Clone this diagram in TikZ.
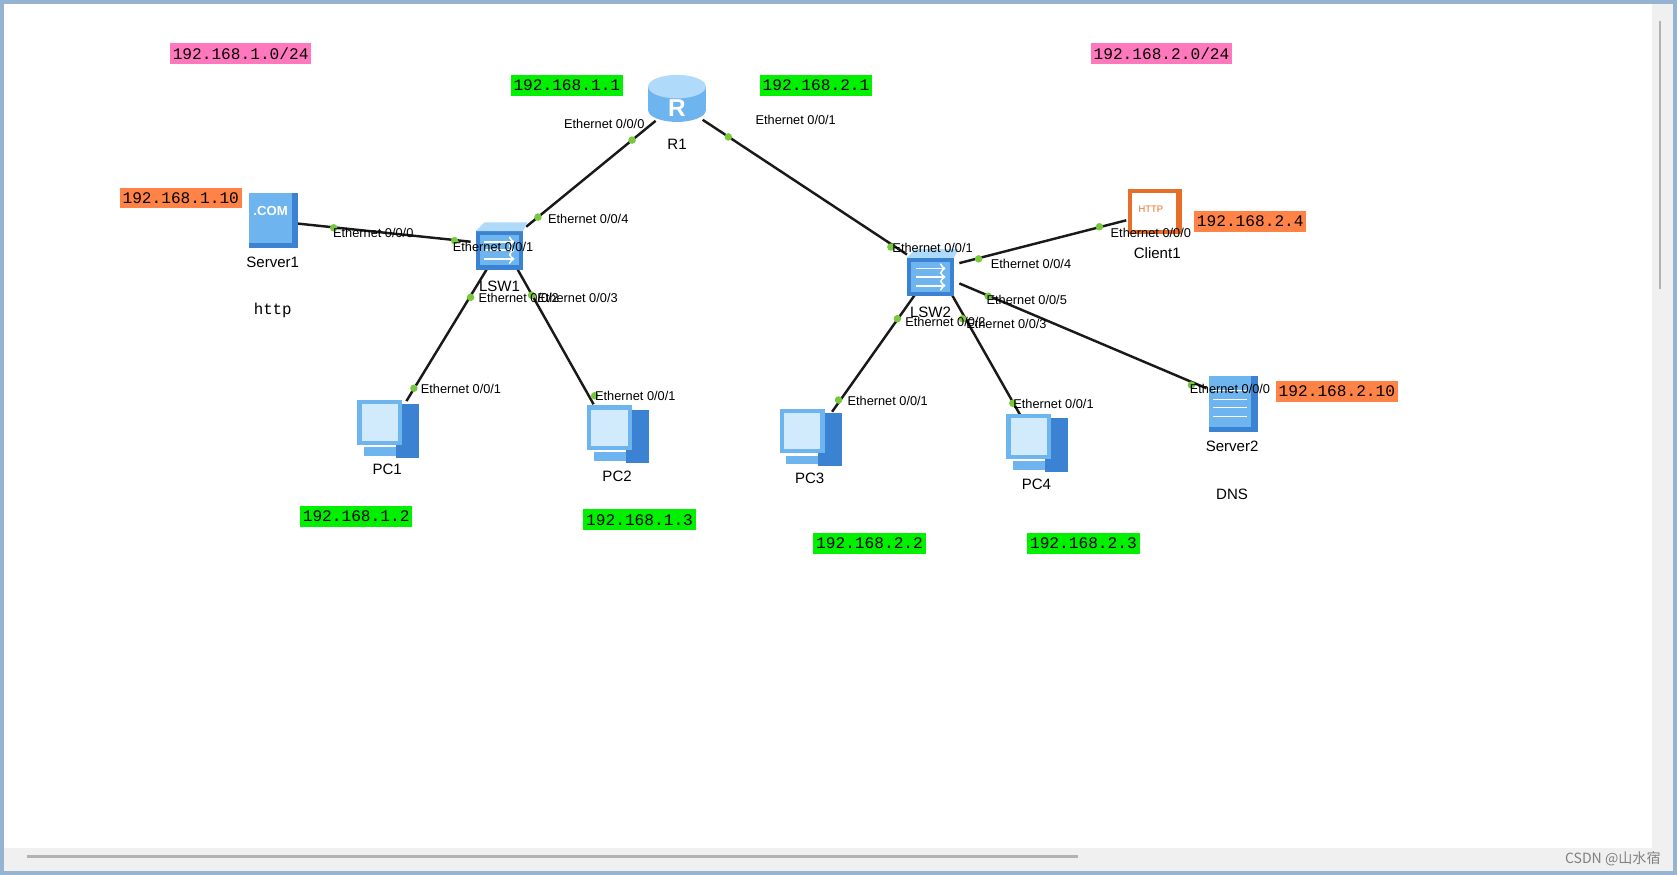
\documentclass[tikz,border=0pt]{standalone}
\usepackage{fontspec}
\setmainfont{Liberation Sans}
\newfontfamily\monof{Liberation Mono}
\newfontfamily\cjkf{Noto Sans CJK SC}
\definecolor{cpink}{RGB}{255,120,190}
\definecolor{cgrn}{RGB}{0,240,0}
\definecolor{corg}{RGB}{255,130,70}
\definecolor{cframe}{RGB}{150,180,210}
\definecolor{cdot}{RGB}{120,200,60}
\definecolor{bdark}{RGB}{60,130,210}
\definecolor{bmid}{RGB}{110,180,238}
\definecolor{blight}{RGB}{175,218,250}
\definecolor{bpale}{RGB}{210,235,252}
\definecolor{corgd}{RGB}{230,110,40}
\begin{document}
\begin{tikzpicture}[x=0.02cm,y=-0.02cm,
 ip/.style={font=\monof\fontsize{8.6}{9}\selectfont,inner sep=1.5pt,minimum height=11pt},
 pink/.style={ip,fill=cpink},
 grn/.style={ip,fill=cgrn},
 org/.style={ip,fill=corg},
 eth/.style={font=\fontsize{6.8}{7}\selectfont,inner sep=0pt},
 dev/.style={font=\fontsize{8}{9}\selectfont,inner sep=0pt},
 link/.style={line width=1.3pt,black!90},
 dot/.style={circle,fill=cdot,inner sep=0pt,minimum size=4pt}]
\useasboundingbox (0,0) rectangle (1568,818);
\fill[white] (0,0) rectangle (1568,818);
\fill[gray!12] (1545,0) rectangle (1568,818);
\fill[gray!12] (0,793) rectangle (1545,818);
\draw[gray!60,line width=1.5pt] (25,801) -- (1008,801);
\draw[gray!60,line width=1.5pt] (1552,20) -- (1552,270);
\draw[cframe,line width=3pt] (1,1) rectangle (1567,817);
\node[font=\cjkf\fontsize{7.5}{8}\selectfont,text=gray] (wm) at (1508,803) {CSDN @山水宿};
% coordinates
\coordinate (r1a) at (613,113); \coordinate (s1a) at (492,212);
\coordinate (r1b) at (657,112); \coordinate (s2a) at (848,238);
\coordinate (sv1) at (278,209); \coordinate (s1b) at (440,226);
\coordinate (s1c) at (455,252); \coordinate (pc1) at (380,375);
\coordinate (s1d) at (484,252); \coordinate (pc2) at (555,378);
\coordinate (s2b) at (897,246); \coordinate (cl1) at (1053,206);
\coordinate (s2c) at (897,265); \coordinate (sv2) at (1128,363);
\coordinate (s2d) at (858,272); \coordinate (pc3) at (778,385);
\coordinate (s2e) at (888,272); \coordinate (pc4) at (955,390);
\draw[link] (r1a)--(s1a); \draw[link] (r1b)--(s2a);
\draw[link] (sv1)--(s1b); \draw[link] (s1c)--(pc1); \draw[link] (s1d)--(pc2);
\draw[link] (s2b)--(cl1); \draw[link] (s2c)--(sv2); \draw[link] (s2d)--(pc3); \draw[link] (s2e)--(pc4);
\foreach \p/\n in {{591,131}/d1,{503,203}/d2,{681,128}/d3,{833,231}/d4,{312,213}/d5,{425,225}/d6,{440,278}/d7,{387,363}/d8,{497,276}/d9,{556,370}/d10,{915,242}/d11,{1028,212}/d12,{924,277}/d13,{1114,360}/d14,{839,298}/d15,{784,374}/d16,{900,298}/d17,{947,377}/d18}
  \node[dot] (\n) at (\p) {};
% router
\begin{scope}[shift={(633,93)}]
 \fill[bmid] (-27,-12) -- (-27,10) arc[start angle=180,end angle=0,x radius=27,y radius=11] -- (27,-12) -- cycle;
 \fill[blight] (0,-12) ellipse[x radius=27,y radius=11];
 \node[font=\bfseries\fontsize{13}{13}\selectfont,text=white] (rr) at (0,8) {R};
\end{scope}
% switches
\foreach \x/\y in {467/230,870/255}{
 \begin{scope}[shift={(\x,\y)}]
  \fill[bdark] (-22,-14) rectangle (22,22);
  \fill[blight] (-22,-14) -- (-14,-22) -- (26,-22) -- (22,-14) -- cycle;
  \fill[bmid] (-18,-10) rectangle (18,18);
  \foreach \yy in {-4,4,12}{\draw[white,line width=1pt,->] (-14,\yy) -- (14,\yy);}
 \end{scope}}
% server1
\begin{scope}[shift={(255,205)}]
 \fill[bdark] (-22,-25) rectangle (24,27);
 \fill[bmid] (-22,-25) rectangle (18,22);
 \node[font=\bfseries\fontsize{7}{7}\selectfont,text=white] (com) at (-2,-8) {.COM};
\end{scope}
% server2
\begin{scope}[shift={(1152,377)}]
 \fill[bdark] (-22,-25) rectangle (24,27);
 \fill[bmid] (-22,-25) rectangle (18,22);
 \foreach \yy in {-12,-4,4,12}{\draw[white] (-18,\yy) -- (14,\yy);}
\end{scope}
% client1
\begin{scope}[shift={(1080,197)}]
 \fill[corgd] (-25,-20) rectangle (25,22);
 \fill[white] (-22,-17) rectangle (20,18);
 \node[font=\fontsize{5}{5}\selectfont,text=corgd] (http) at (-4,-1) {HTTP};
\end{scope}
% PCs
\foreach \x/\y in {362/400,577/405,757/408,969/413}{
 \begin{scope}[shift={(\x,\y)}]
  \fill[bdark] (8,-22) rectangle (30,28);
  \fill[bmid] (-28,-26) rectangle (14,16);
  \fill[bpale] (-24,-22) rectangle (10,12);
  \fill[bmid] (-22,18) rectangle (8,26);
 \end{scope}}
% device labels
\node[dev] (R1) at (633,135) {R1};
\node[dev] (LSW1) at (467,268) {LSW1};
\node[dev] (LSW2) at (870,292) {LSW2};
\node[dev] (Server1) at (255,245) {Server1};
\node[font=\monof\fontsize{8.4}{9}\selectfont] (httpl) at (255,290) {http};
\node[dev] (Client1) at (1082,237) {Client1};
\node[dev] (Server2) at (1152,417) {Server2};
\node[dev] (dns) at (1152,462) {DNS};
\node[dev] (PC1) at (362,439) {PC1};
\node[dev] (PC2) at (577,445) {PC2};
\node[dev] (PC3) at (757,447) {PC3};
\node[dev] (PC4) at (969,453) {PC4};
% eth labels
\node[eth] at (565,116) {Ethernet 0/0/0};
\node[eth] at (550,205) {Ethernet 0/0/4};
\node[eth] at (744,112) {Ethernet 0/0/1};
\node[eth] at (872,232) {Ethernet 0/0/1};
\node[eth] at (349,218) {Ethernet 0/0/0};
\node[eth] at (461,231) {Ethernet 0/0/1};
\node[eth] at (485,279) {Ethernet 0/0/2};
\node[eth] at (431,364) {Ethernet 0/0/1};
\node[eth] at (540,279) {Ethernet 0/0/3};
\node[eth] at (594,370) {Ethernet 0/0/1};
\node[eth] at (964,247) {Ethernet 0/0/4};
\node[eth] at (1076,218) {Ethernet 0/0/0};
\node[eth] at (960,280) {Ethernet 0/0/5};
\node[eth] at (1150,364) {Ethernet 0/0/0};
\node[eth] at (884,301) {Ethernet 0/0/2};
\node[eth] at (830,375) {Ethernet 0/0/1};
\node[eth] at (941,303) {Ethernet 0/0/3};
\node[eth] at (985,378) {Ethernet 0/0/1};
% IP labels
\node[pink] (n1) at (225,50) {192.168.1.0/24};
\node[pink] (n2) at (1086,50) {192.168.2.0/24};
\node[grn] (g1) at (530,80) {192.168.1.1};
\node[grn] (g2) at (763,80) {192.168.2.1};
\node[grn] (g3) at (333,483) {192.168.1.2};
\node[grn] (g4) at (598,486) {192.168.1.3};
\node[grn] (g5) at (813,508) {192.168.2.2};
\node[grn] (g6) at (1013,508) {192.168.2.3};
\node[org] (o1) at (169,185) {192.168.1.10};
\node[org] (o2) at (1169,207) {192.168.2.4};
\node[org] (o3) at (1250,366) {192.168.2.10};
\end{tikzpicture}
\end{document}
